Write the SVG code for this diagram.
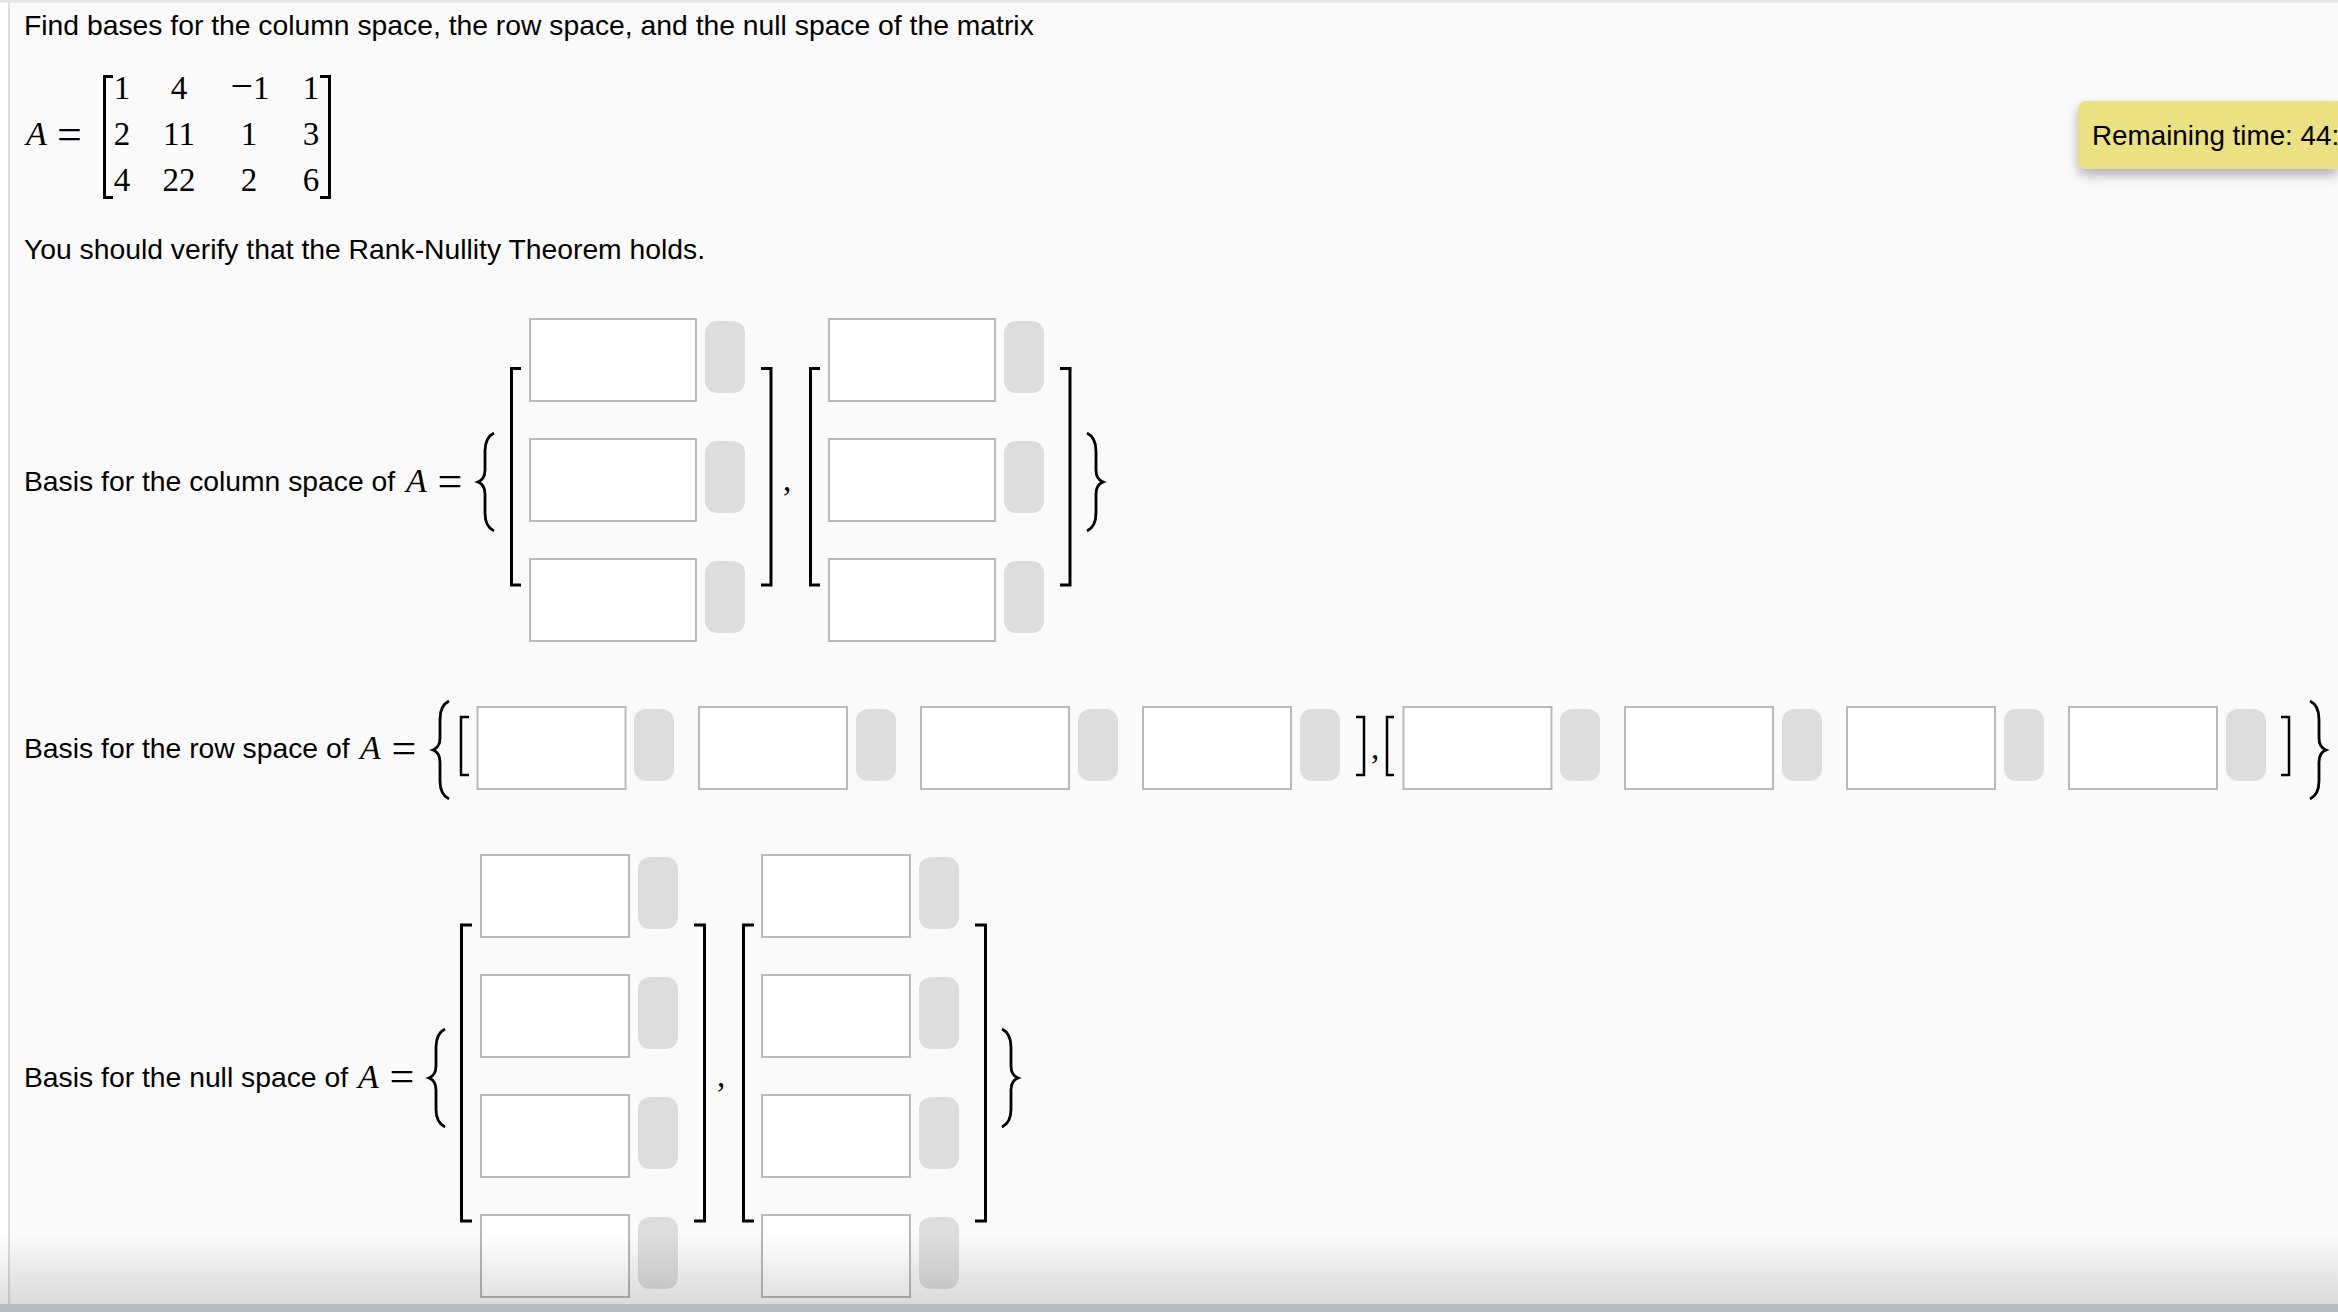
<svg xmlns="http://www.w3.org/2000/svg" width="2338" height="1312" viewBox="0 0 2338 1312">
<style>
.t{font-family:"Liberation Sans",Arial,sans-serif;font-size:28.3px;fill:#000}
.m{font-family:"Liberation Serif","Times New Roman",serif;font-size:33px;fill:#000}
.e{font-family:"Liberation Serif","Times New Roman",serif;font-size:44px;fill:#000}
.c{text-anchor:middle}
.i{font-style:italic;font-size:34px}
.b{fill:#fff;stroke:#b9b9b9;stroke-width:2}
.p{fill:#ddd}
.k{fill:none;stroke:#000;stroke-width:3}
.r{fill:none;stroke:#000;stroke-width:2.5}
</style>
<defs>
<linearGradient id="fade" x1="0" y1="0" x2="0" y2="1"><stop offset="0" stop-color="#000" stop-opacity="0"/><stop offset="1" stop-color="#000" stop-opacity="0.13"/></linearGradient>
<filter id="sh" x="-10%" y="-30%" width="120%" height="170%"><feDropShadow dx="0" dy="6" stdDeviation="6" flood-color="#000" flood-opacity="0.3"/></filter>
<path id="brace" fill="none" stroke="#000" stroke-width="2.8" d="M17 0C11 3 8 9 8 18V37C8 43 6 47 1 49C6 51 8 55 8 61V80C8 89 11 95 17 98"/>
</defs>
<rect width="2338" height="1312" fill="#fafafa"/>
<rect width="8" height="1312" fill="#fff"/>
<rect x="8" width="2" height="1304" fill="#dedede"/>
<rect width="2338" height="2.5" fill="#e4e4e4"/>
<g id="prompt">
<text class="t" x="24" y="35">Find bases for the column space, the row space, and the null space of the matrix</text>
<text class="t" x="24" y="259">You should verify that the Rank-Nullity Theorem holds.</text>
</g>
<g id="matrix">
<text class="m i" x="26" y="145">A</text><text class="e" x="57" y="149">=</text>
<path class="k" d="M113 76.500H104.500V197.500H113"/><path class="k" d="M320 76.500H329.500V197.500H320"/>
<text class="m c" x="122" y="99">1</text><text class="m c" x="179" y="99">4</text><text class="m c" x="250" y="99"><tspan font-size="40">−</tspan>1</text><text class="m c" x="311" y="99">1</text>
<text class="m c" x="122" y="145">2</text><text class="m c" x="179" y="145">11</text><text class="m c" x="249" y="145">1</text><text class="m c" x="311" y="145">3</text>
<text class="m c" x="122" y="191">4</text><text class="m c" x="179" y="191">22</text><text class="m c" x="249" y="191">2</text><text class="m c" x="311" y="191">6</text>
</g>
<g id="timer">
<path d="M2338 101H2086a8 8 0 0 0-8 8V161a8 8 0 0 0 8 8H2338Z" fill="#ebe183" filter="url(#sh)"/>
<text class="t" x="2092" y="145" style="font-size:27.8px">Remaining time: 44:</text>
</g>
<g id="column-basis">
<text class="t" x="24" y="491">Basis for the column space of</text>
<text class="m i" x="406" y="492">A</text><text class="e" x="437.500" y="496">=</text>
<use href="#brace" x="477" y="433"/>
<path class="k" d="M521 368.500H511.500V585H521"/><path class="k" d="M761 368.500H771V585H761"/>
<text class="m" x="783" y="491">,</text>
<path class="k" d="M820 368.500H810.500V585H820"/><path class="k" d="M1060 368.500H1070V585H1060"/>
<use href="#brace" transform="translate(1104 433) scale(-1 1)"/>
<rect class="b" x="530" y="319" width="166" height="82"/><rect class="p" x="705" y="321" width="40" height="72" rx="12"/>
<rect class="b" x="530" y="439" width="166" height="82"/><rect class="p" x="705" y="441" width="40" height="72" rx="12"/>
<rect class="b" x="530" y="559" width="166" height="82"/><rect class="p" x="705" y="561" width="40" height="72" rx="12"/>
<rect class="b" x="829" y="319" width="166" height="82"/><rect class="p" x="1004" y="321" width="40" height="72" rx="12"/>
<rect class="b" x="829" y="439" width="166" height="82"/><rect class="p" x="1004" y="441" width="40" height="72" rx="12"/>
<rect class="b" x="829" y="559" width="166" height="82"/><rect class="p" x="1004" y="561" width="40" height="72" rx="12"/>
</g>
<g id="row-basis">
<text class="t" x="24" y="758">Basis for the row space of</text>
<text class="m i" x="360" y="759">A</text><text class="e" x="391.500" y="763">=</text>
<use href="#brace" x="432" y="701"/>
<path class="r" d="M469 717H461V775H469"/><path class="r" d="M1356 717H1364V775H1356"/>
<text class="m" x="1371" y="759">,</text>
<path class="r" d="M1394 717H1387V775H1394"/><path class="r" d="M2281 717H2289V775H2281"/>
<use href="#brace" transform="translate(2327 701) scale(-1 1)"/>
<rect class="b" x="477.500" y="707" width="148" height="82"/><rect class="p" x="634" y="709" width="40" height="72" rx="12"/>
<rect class="b" x="699" y="707" width="148" height="82"/><rect class="p" x="856" y="709" width="40" height="72" rx="12"/>
<rect class="b" x="921" y="707" width="148" height="82"/><rect class="p" x="1078" y="709" width="40" height="72" rx="12"/>
<rect class="b" x="1143" y="707" width="148" height="82"/><rect class="p" x="1300" y="709" width="40" height="72" rx="12"/>
<rect class="b" x="1403.500" y="707" width="148" height="82"/><rect class="p" x="1560" y="709" width="40" height="72" rx="12"/>
<rect class="b" x="1625" y="707" width="148" height="82"/><rect class="p" x="1782" y="709" width="40" height="72" rx="12"/>
<rect class="b" x="1847" y="707" width="148" height="82"/><rect class="p" x="2004" y="709" width="40" height="72" rx="12"/>
<rect class="b" x="2069" y="707" width="148" height="82"/><rect class="p" x="2226" y="709" width="40" height="72" rx="12"/>
</g>
<g id="null-basis">
<text class="t" x="24" y="1087">Basis for the null space of</text>
<text class="m i" x="358" y="1088">A</text><text class="e" x="389.500" y="1091">=</text>
<use href="#brace" x="428" y="1029"/>
<path class="k" d="M472 925H461.500V1221H472"/><path class="k" d="M694 925H704.500V1221H694"/>
<text class="m" x="717" y="1087">,</text>
<path class="k" d="M754 925H743.500V1221H754"/><path class="k" d="M975 925H985.500V1221H975"/>
<use href="#brace" transform="translate(1019 1029) scale(-1 1)"/>
<rect class="b" x="481" y="855" width="148" height="82"/><rect class="p" x="638" y="857" width="40" height="72" rx="12"/>
<rect class="b" x="481" y="975" width="148" height="82"/><rect class="p" x="638" y="977" width="40" height="72" rx="12"/>
<rect class="b" x="481" y="1095" width="148" height="82"/><rect class="p" x="638" y="1097" width="40" height="72" rx="12"/>
<rect class="b" x="481" y="1215" width="148" height="82"/><rect class="p" x="638" y="1217" width="40" height="72" rx="12"/>
<rect class="b" x="762" y="855" width="148" height="82"/><rect class="p" x="919" y="857" width="40" height="72" rx="12"/>
<rect class="b" x="762" y="975" width="148" height="82"/><rect class="p" x="919" y="977" width="40" height="72" rx="12"/>
<rect class="b" x="762" y="1095" width="148" height="82"/><rect class="p" x="919" y="1097" width="40" height="72" rx="12"/>
<rect class="b" x="762" y="1215" width="148" height="82"/><rect class="p" x="919" y="1217" width="40" height="72" rx="12"/>
</g>
<rect y="1234" width="2338" height="70" fill="url(#fade)"/>
<rect y="1304" width="2338" height="8" fill="#b5baba"/>
</svg>
